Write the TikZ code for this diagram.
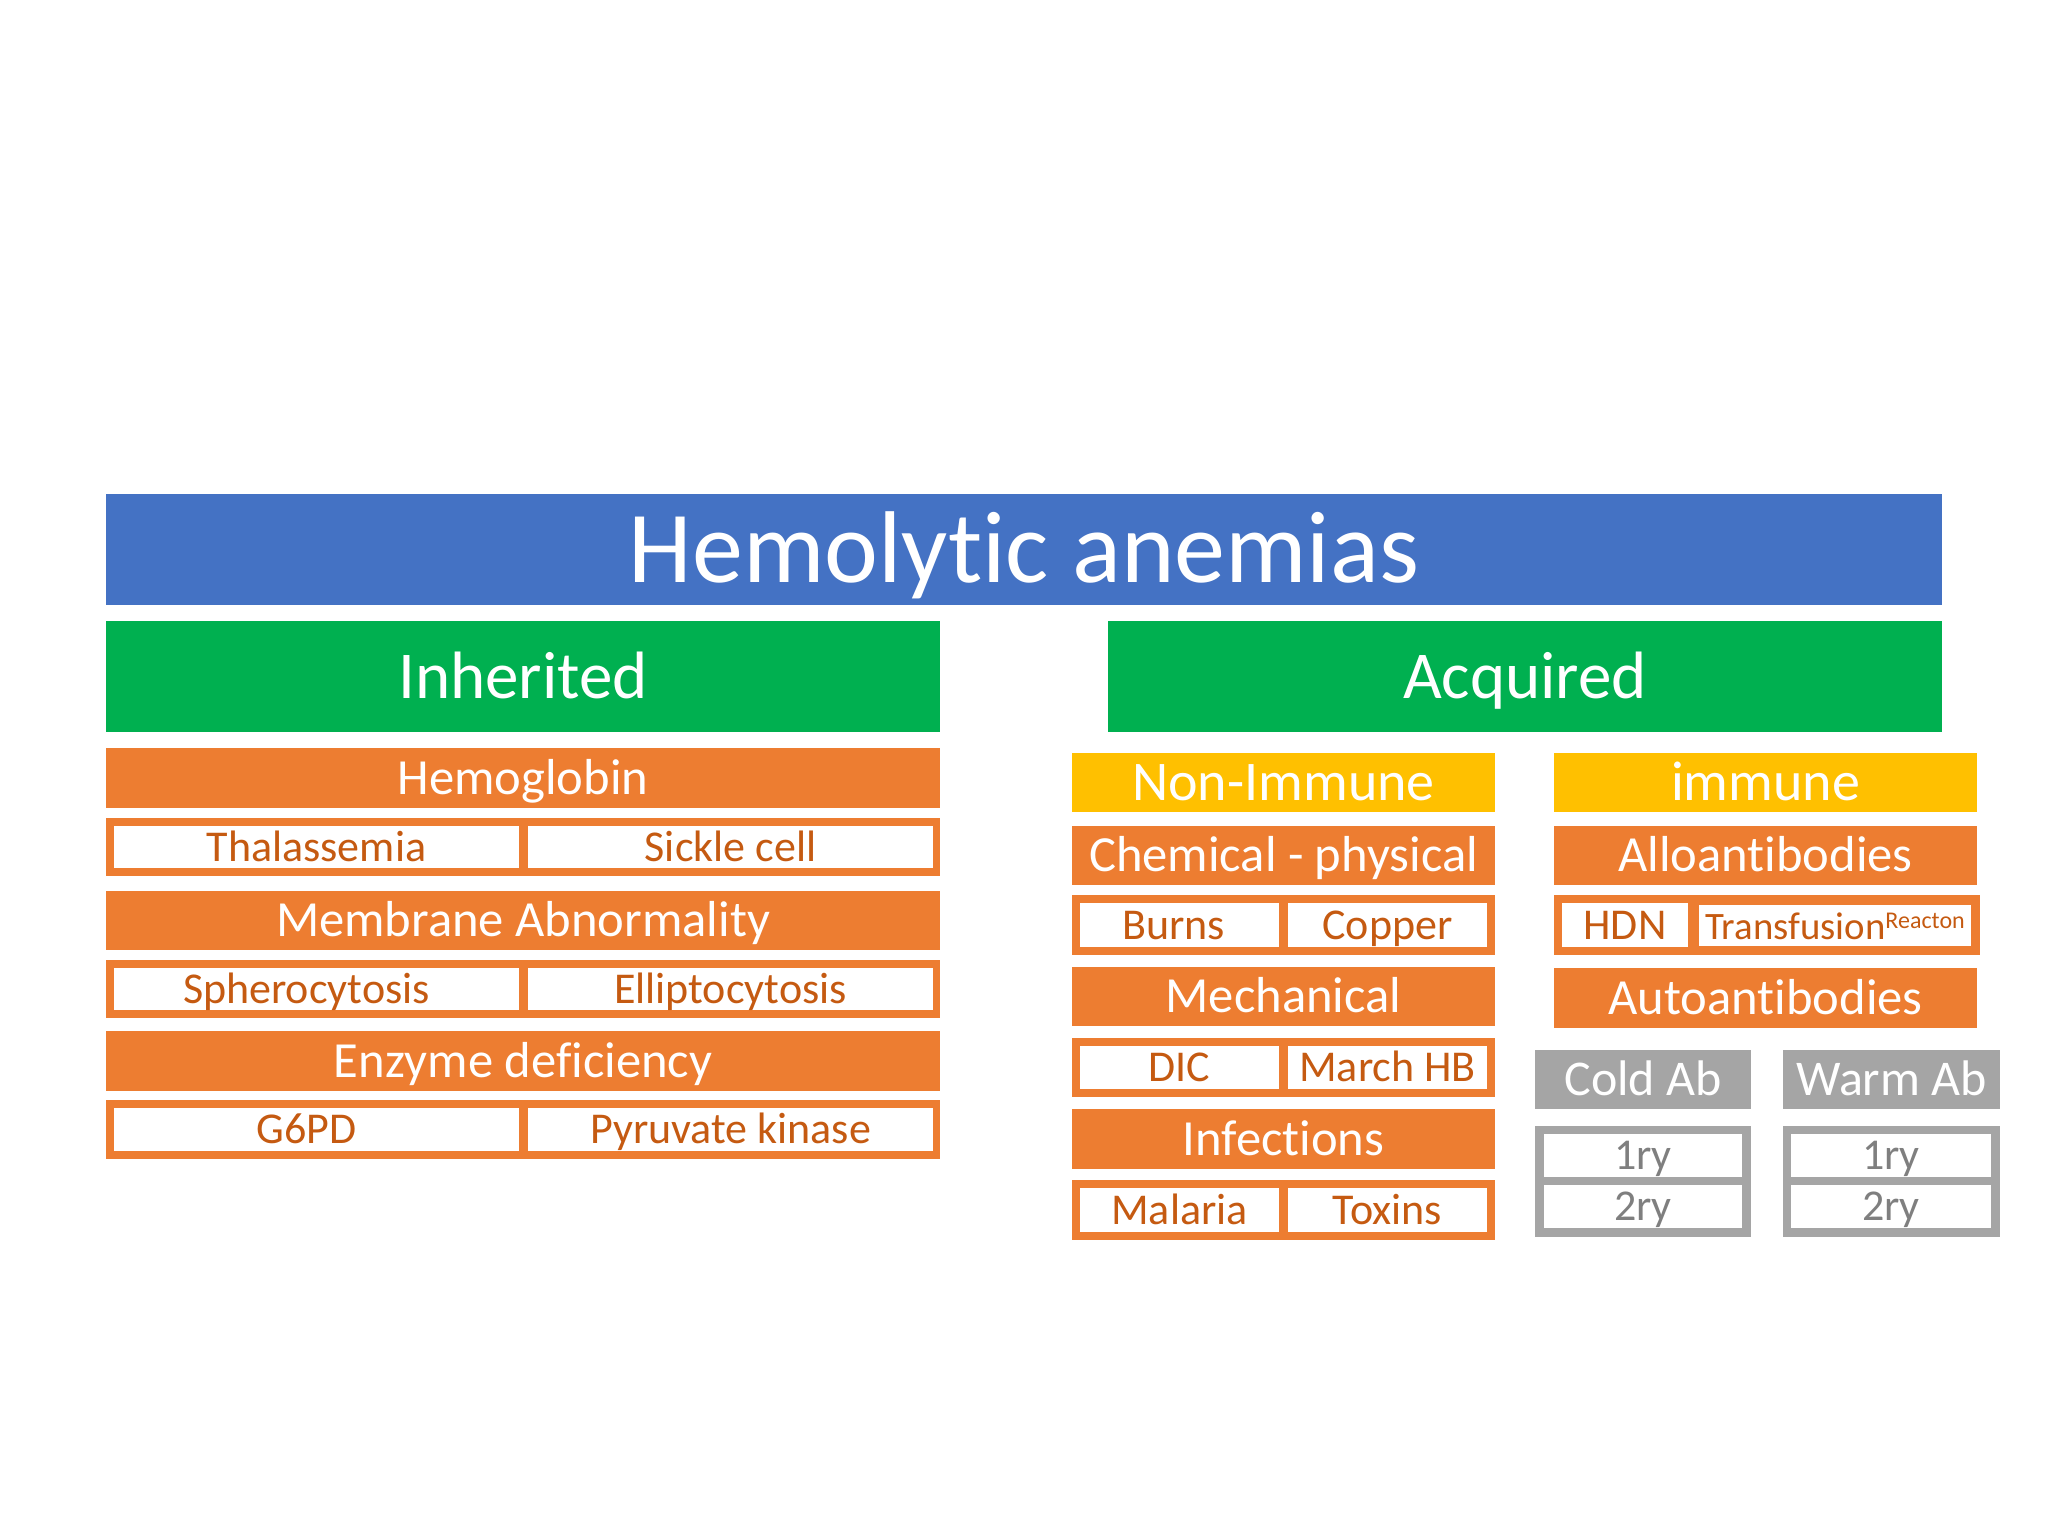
\documentclass[tikz,border=0pt]{standalone}
\usepackage{fontspec}
\setmainfont[Ligatures={NoCommon}]{Carlito}
\definecolor{blueF}{HTML}{4472C4}
\definecolor{greenF}{HTML}{00B050}
\definecolor{orangeF}{HTML}{ED7D31}
\definecolor{orangeT}{HTML}{C55A11}
\definecolor{yellowF}{HTML}{FFC000}
\definecolor{greyF}{HTML}{A5A5A5}
\definecolor{greyT}{HTML}{7F7F7F}
\newcommand\bx[7]{\node[#2, minimum width={(#5-#3)*0.5pt}, minimum height={(#6-#4)*0.5pt}] (#1) at ({(#3+#5)/2},{(#4+#6)/2}) {#7};}
\tikzset{
  base/.style={inner sep=0pt, outer sep=0pt, draw=none, text depth=0pt},
  titlebox/.style={base, fill=blueF, text=white, font=\fontsize{51}{60}\selectfont, text height=32.8pt},
  catbox/.style={base, fill=greenF, text=white, font=\fontsize{33.5}{40}\selectfont, text height=21.6pt},
  hdr/.style={base, fill=orangeF, text=white, font=\fontsize{25.3}{30}\selectfont, text height=16.3pt},
  ybox/.style={base, fill=yellowF, text=white, font=\fontsize{28}{33}\selectfont, text height=18pt},
  frameO/.style={base, fill=orangeF},
  cellO/.style={base, fill=white, text=orangeT, font=\fontsize{22}{26}\selectfont, text height=14.2pt},
  gbox/.style={base, fill=greyF, text=white, font=\fontsize{25}{30}\selectfont, text height=16.1pt},
  frameG/.style={base, fill=greyF},
  cellG/.style={base, fill=white, text=greyT, font=\fontsize{22}{26}\selectfont, text height=14.2pt},
}
\begin{document}
\begin{tikzpicture}[x=0.5pt,y=-0.5pt]
\fill[white] (0,0) rectangle (2048,1536);
\useasboundingbox (0,0) rectangle (2048,1536);
% title
\bx{title}{titlebox}{106}{494}{1942}{605}{Hemolytic anemias}
\bx{inh}{catbox}{106}{621}{940}{732}{Inherited}
\bx{acq}{catbox}{1108}{621}{1942}{732}{Acquired}
% inherited column
\bx{hb}{hdr}{106}{748}{940}{808}{Hemoglobin}
\bx{hbf}{frameO}{106}{818}{940}{876}{}
\bx{thal}{cellO}{114}{826}{519}{868}{Thalassemia}
\bx{sick}{cellO}{528}{826}{933}{868}{Sickle cell}
\bx{mem}{hdr}{106}{891}{940}{950}{Membrane Abnormality}
\bx{memf}{frameO}{106}{960}{940}{1018}{}
\bx{sph}{cellO}{114}{968}{519}{1010}{\hspace*{-10pt}Spherocytosis}
\bx{ell}{cellO}{528}{968}{933}{1010}{Elliptocytosis}
\bx{enz}{hdr}{106}{1031}{940}{1091}{Enzyme deficiency}
\bx{enzf}{frameO}{106}{1100}{940}{1159}{}
\bx{g6pd}{cellO}{114}{1108}{519}{1151}{\hspace*{-10pt}G6PD}
\bx{pk}{cellO}{528}{1108}{933}{1151}{Pyruvate kinase}
% non-immune column
\bx{nonimm}{ybox}{1072}{753}{1495}{812}{Non-Immune}
\bx{chem}{hdr}{1072}{826}{1495}{885}{Chemical - physical}
\bx{chemf}{frameO}{1072}{895}{1495}{955}{}
\bx{burns}{cellO}{1080}{903}{1279}{947}{\hspace*{-6pt}Burns}
\bx{copper}{cellO}{1288}{903}{1487}{947}{Copper}
\bx{mech}{hdr}{1072}{967}{1495}{1026}{Mechanical}
\bx{mechf}{frameO}{1072}{1038}{1495}{1097}{}
\bx{dic}{cellO}{1080}{1046}{1279}{1089}{DIC}
\bx{march}{cellO}{1288}{1046}{1487}{1089}{March HB}
\bx{inf}{hdr}{1072}{1109}{1495}{1169}{Infections}
\bx{inff}{frameO}{1072}{1180}{1495}{1240}{}
\bx{mal}{cellO}{1080}{1188}{1279}{1232}{Malaria}
\bx{tox}{cellO}{1288}{1188}{1487}{1232}{Toxins}
% immune column
\bx{imm}{ybox}{1554}{753}{1977}{812}{immune}
\bx{allo}{hdr}{1554}{826}{1977}{885}{Alloantibodies}
\bx{allof}{frameO}{1554}{895}{1980}{955}{}
\bx{hdn}{cellO}{1562}{903}{1688}{947}{HDN}
\bx{trans}{cellO}{1699}{905}{1971}{946}{{\fontsize{19.4}{23}\selectfont Transfusion}\raisebox{5.6pt}{\fontsize{12}{14}\selectfont Reacton}}
\bx{auto}{hdr}{1554}{968}{1977}{1028}{Autoantibodies}
\bx{cold}{gbox}{1535}{1050}{1751}{1109}{Cold Ab}
\bx{warm}{gbox}{1783}{1050}{2000}{1109}{Warm Ab}
\bx{coldf}{frameG}{1535}{1126}{1751}{1237}{}
\bx{warmf}{frameG}{1783}{1126}{2000}{1237}{}
\bx{c1}{cellG}{1544}{1134}{1742}{1177}{1ry}
\bx{c2}{cellG}{1544}{1185}{1742}{1228}{2ry}
\bx{w1}{cellG}{1791}{1134}{1991}{1177}{1ry}
\bx{w2}{cellG}{1791}{1185}{1991}{1228}{2ry}
\end{tikzpicture}
\end{document}
